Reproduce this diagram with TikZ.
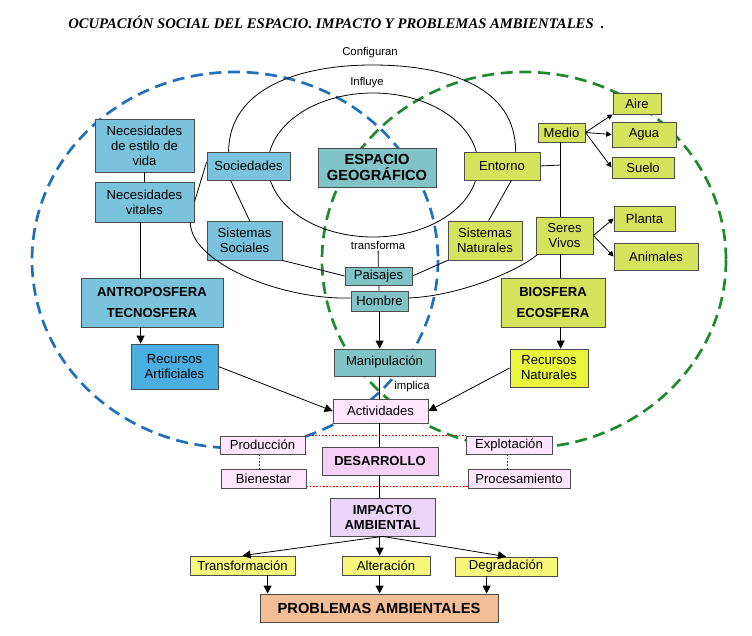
\documentclass[tikz,border=0pt]{standalone}
\usepackage{fontspec}
\setmainfont{Liberation Sans}
\newfontfamily\ttl{Liberation Serif}
\usetikzlibrary{calc,arrows.meta}
\definecolor{cblue}{HTML}{7BC3DC}
\definecolor{cdblue}{HTML}{4BAEE0}
\definecolor{cteal}{HTML}{80C4C8}
\definecolor{cgreen}{HTML}{D4E35C}
\definecolor{cygreen}{HTML}{E8F53C}
\definecolor{cpink}{HTML}{FDE6FD}
\definecolor{cdes}{HTML}{F6D0F6}
\definecolor{cimp}{HTML}{EAD5F8}
\definecolor{cyel}{HTML}{F7F77C}
\definecolor{corange}{HTML}{F3BE95}
\definecolor{dblue}{HTML}{1F6FBF}
\definecolor{dgreen}{HTML}{1E8A2E}
\newcommand\mybox[7]{\node[box,#6,minimum width={(#4-#2)*0.75pt},minimum height={(#5-#3)*0.75pt}] (#1) at ({(#2+#4)/2},{(#3+#5)/2}) {#7};}
\tikzset{
 box/.style={draw=gray!60!black,line width=0.6pt,inner sep=1pt,align=center,font=\fontsize{9.8}{11.3}\selectfont},
 bld/.style={font=\bfseries\fontsize{9.8}{11.3}\selectfont},
 lab/.style={font=\fontsize{8.5}{10}\selectfont,inner sep=1pt},
 ln/.style={line width=0.6pt},
 ar/.style={line width=0.6pt,-{Triangle[length=6pt,width=6pt]}},
 sar/.style={line width=0.6pt,-{Triangle[length=4pt,width=4pt]}},
 dsh/.style={line width=2pt,dash pattern=on 9pt off 5pt},
 rdot/.style={red,line width=1.3pt,dash pattern=on 1.2pt off 1.3pt}
}
\begin{document}
\begin{tikzpicture}[x=0.75pt,y=-0.75pt]
\useasboundingbox (0,0) rectangle (752,635);
\fill[white] (0,0) rectangle (752,635);
\node[anchor=west,font=\ttl\bfseries\itshape\fontsize{11}{13}\selectfont,inner sep=0] (title) at (68,22) {OCUPACIÓN SOCIAL DEL ESPACIO. IMPACTO Y PROBLEMAS AMBIENTALES \ .};
% dashed ellipses
\draw[dsh,dblue] (235,260) ellipse [x radius=203,y radius=188];
\draw[dsh,dgreen] (524,260) ellipse [x radius=202,y radius=188];
% inner ellipse
\draw[ln] (373,165) ellipse [x radius=105,y radius=72];
% boxes
\mybox{nes}{95}{119}{194}{172}{fill=cblue}{Necesidades\\de estilo de\\vida}
\mybox{nv}{95}{182}{194}{222}{fill=cblue}{Necesidades\\vitales}
\mybox{soc}{207}{152}{290}{180}{fill=cblue}{Sociedades}
\mybox{ss}{207}{221}{282}{260}{fill=cblue}{Sistemas\\Sociales}
\mybox{ant}{81}{278}{223}{327}{fill=cblue,bld}{ANTROPOSFERA\\[5pt]TECNOSFERA}
\mybox{ra}{131}{344}{218}{389}{fill=cdblue}{Recursos\\Artificiales}
\mybox{esp}{318}{148}{436}{187}{fill=cteal,font=\bfseries\fontsize{11}{12.5}\selectfont}{ESPACIO\\GEOGRÁFICO}
\mybox{pai}{345}{267}{412}{285}{fill=cteal}{Paisajes}
\mybox{hom}{351}{291}{408}{311}{fill=cteal}{Hombre}
\mybox{man}{334}{349}{435}{376}{fill=cteal}{Manipulación}
\mybox{act}{333}{399}{428}{423}{fill=cpink}{Actividades}
\mybox{ent}{464}{152}{540}{180}{fill=cgreen}{Entorno}
\mybox{med}{538}{123}{585}{142}{fill=cgreen}{Medio}
\mybox{aire}{613}{93}{661}{114}{fill=cgreen}{Aire}
\mybox{agua}{612}{122}{676}{147}{fill=cgreen}{Agua}
\mybox{sue}{612}{157}{674}{178}{fill=cgreen}{Suelo}
\mybox{sn}{448}{221}{522}{260}{fill=cgreen}{Sistemas\\Naturales}
\mybox{sv}{536}{217}{593}{254}{fill=cgreen}{Seres\\Vivos}
\mybox{pla}{614}{206}{675}{231}{fill=cgreen}{Planta}
\mybox{ani}{614}{243}{698}{270}{fill=cgreen}{Animales}
\mybox{bio}{501}{278}{605}{327}{fill=cgreen,bld}{BIOSFERA\\[5pt]ECOSFERA}
\mybox{rn}{510}{349}{588}{387}{fill=cygreen}{Recursos\\Naturales}
\mybox{pro}{220}{436}{305}{454}{fill=cpink}{Producción}
\mybox{bie}{221}{469}{306}{488}{fill=cpink}{Bienestar}
\mybox{des}{322}{447}{438}{475}{fill=cdes,bld}{DESARROLLO}
\mybox{exp}{466}{436}{552}{454}{fill=cpink}{Explotación}
\mybox{prc}{468}{469}{570}{488}{fill=cpink}{Procesamiento}
\mybox{imp}{330}{498}{435}{536}{fill=cimp,bld}{IMPACTO\\AMBIENTAL}
\mybox{tra}{190}{556}{295}{575}{fill=cyel}{Transformación}
\mybox{alt}{342}{556}{430}{575}{fill=cyel}{Alteración}
\mybox{deg}{455}{557}{557}{576}{fill=cyel}{Degradación}
\mybox{prob}{260}{594}{498}{622}{fill=corange,font=\bfseries\fontsize{11}{12.5}\selectfont}{PROBLEMAS AMBIENTALES}
% labels
\node[lab] (conf) at (370,53) {Configuran};
\node[lab] (infl) at (367,83) {Influye};
\node[lab] (trf) at (378,245) {transforma};
\node[lab] (impl) at (412,387) {implica};
% outer black curves
\draw[ln] ($(soc.north west)+(22,0)$) .. controls (229,88) and (300,65) .. (372,65) .. controls (450,65) and (516,88) .. ($(ent.north west)+(52,0)$);
\draw[ln] ($(nv.south east)+(-4,0)$) .. controls (190,262) and (280,300) .. ($(hom.west)+(0,-3)$);
\draw[ln] ($(hom.east)+(0,-3)$) .. controls (460,296) and (520,270) .. ($(sv.south west)+(2,0)$);
% connectors
\draw[ln] (nes) -- (nv);
\draw[ln] (nv.east) -- ($(soc.west)+(0,-4)$);
\draw[ln] ($(nv.south west)+(46,0)$) -- ($(ant.north west)+(60,0)$);
\draw[ar] ($(ant.south west)+(60,0)$) -- ($(ra.north west)+(10,0)$);
\draw[ar] (ra.east) -- (act.west);
\draw[ln] ($(soc.south west)+(24,0)$) -- ($(ss.north west)+(43,0)$);
\draw[ln] (ss.south east) -- (pai.west);
\draw[ln] (sn.south west) -- (pai.east);
\draw[ln] ($(ent.south east)+(-29,0)$) -- ($(sn.north west)+(41,0)$);
\coordinate (jn) at (561,165);
\draw[ln] (ent.east) -- (jn);
\draw[ln] ($(med.south west)+(23,0)$) -- ($(sv.north west)+(25,0)$);
\draw[ln] ($(sv.south west)+(25,0)$) -- ($(bio.north west)+(60,0)$);
\draw[ar] ($(bio.south west)+(60,0)$) -- ($(rn.north west)+(51,0)$);
\draw[ar] (rn.west) -- (act.east);
\draw[sar] (med.east) -- (aire.south west);
\draw[sar] (med.east) -- (agua.west);
\draw[sar] (med.east) -- (sue.west);
\draw[sar] (sv.east) -- (pla.west);
\draw[sar] (sv.east) -- (ani.west);
\draw[ln] (trf) -- (pai);
\draw[ln] (pai) -- (hom);
\draw[ar] ($(hom.south west)+(29,0)$) -- ($(man.north west)+(46,0)$);
\draw[ln] ($(man.south west)+(46,0)$) -- ($(act.north west)+(47,0)$);
\draw[ln] ($(act.south west)+(47,0)$) -- ($(des.north west)+(58,0)$);
\draw[ln] ($(des.south west)+(58,0)$) -- ($(imp.north west)+(50,0)$);
\draw[ar] (imp.south) -- (tra.north);
\draw[ar] ($(imp.south west)+(50,0)$) -- ($(alt.north west)+(38,0)$);
\draw[ar] (imp.south) -- (deg.north);
\draw[ar] ($(tra.south west)+(78,0)$) -- ($(prob.north west)+(8,0)$);
\draw[ar] ($(alt.south west)+(38,0)$) -- ($(prob.north west)+(120,0)$);
\draw[ar] ($(deg.south west)+(32,0)$) -- ($(prob.north west)+(227,0)$);
% red dotted
\draw[rdot] (pro.north east) -- (exp.north west);
\draw[rdot] ($(pro.south west)+(40,0)$) -- ($(bie.north west)+(39,0)$);
\draw[rdot] ($(exp.south west)+(42,0)$) -- ($(prc.north west)+(40,0)$);
\draw[rdot] ($(bie.south east)+(0,-2)$) -- ($(prc.south west)+(0,-2)$);
\end{tikzpicture}
\end{document}
